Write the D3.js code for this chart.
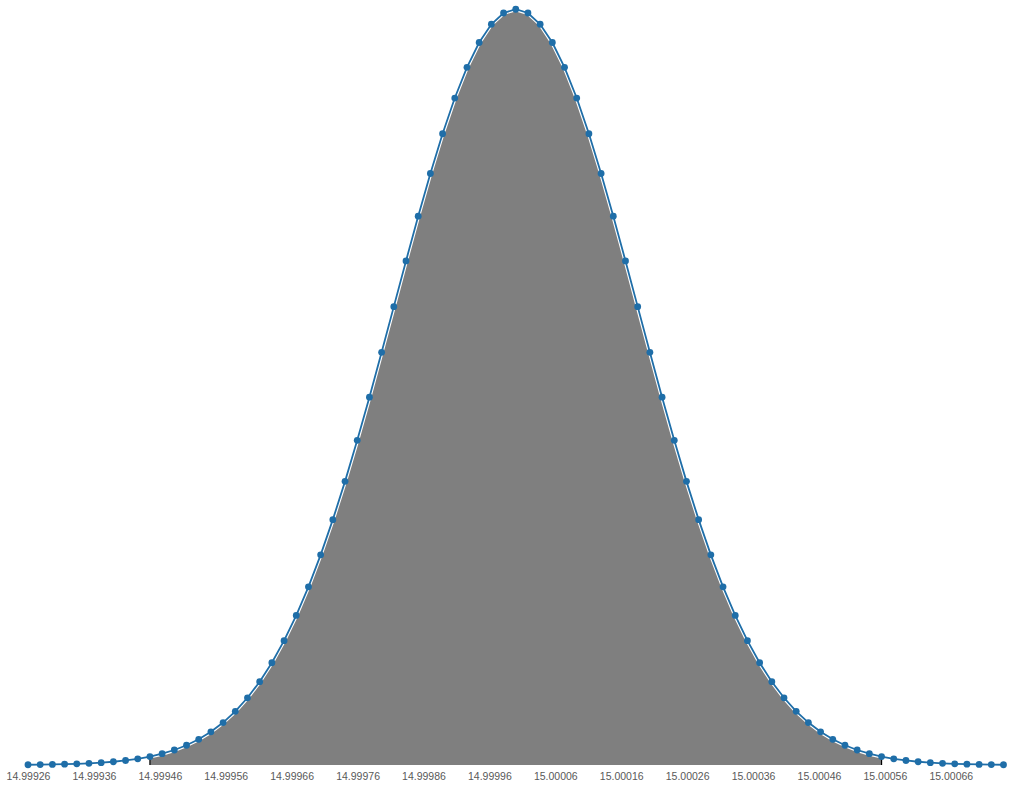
<!DOCTYPE html>
<html>
<head>
<meta charset="utf-8">
<script src="https://cdn.jsdelivr.net/npm/d3@7/dist/d3.min.js"></script>
<style>
  html, body { margin: 0; padding: 0; background: #ffffff; }
  svg { display: block; }
</style>
</head>
<body>
<svg id="chart" width="1030" height="793"></svg>
<script>
// ---- data ----
const xValues = [
  14.99926, 14.9992785, 14.999297, 14.9993155, 14.999334, 14.9993525, 14.999371, 14.9993895,
  14.999408, 14.9994265, 14.999445, 14.9994635, 14.999482, 14.9995005, 14.999519, 14.9995375,
  14.999556, 14.9995745, 14.999593, 14.9996115, 14.99963, 14.9996485, 14.999667, 14.9996855,
  14.999704, 14.9997225, 14.999741, 14.9997595, 14.999778, 14.9997965, 14.999815, 14.9998335,
  14.999852, 14.9998705, 14.999889, 14.9999075, 14.999926, 14.9999445, 14.999963, 14.9999815,
  15.0,
  15.0000185, 15.000037, 15.0000555, 15.000074, 15.0000925, 15.000111, 15.0001295, 15.000148,
  15.0001665, 15.000185, 15.0002035, 15.000222, 15.0002405, 15.000259, 15.0002775, 15.000296,
  15.0003145, 15.000333, 15.0003515, 15.00037, 15.0003885, 15.000407, 15.0004255, 15.000444,
  15.0004625, 15.000481, 15.0004995, 15.000518, 15.0005365, 15.000555, 15.0005735, 15.000592,
  15.0006105, 15.000629, 15.0006475, 15.000666, 15.0006845, 15.000703, 15.0007215, 15.00074
];
const densityValues = [
  0.7, 1.1, 1.6, 2.3, 3.3, 4.7, 6.7, 9.3, 12.9, 17.7,
  24.0, 32.2, 42.8, 56.3, 73.4, 94.7, 121.1, 153.1, 191.8, 237.7,
  291.8, 354.7, 426.8, 508.4, 599.6, 700.1, 809.3, 926.3, 1049.6, 1177.6,
  1307.9, 1438.3, 1565.9, 1687.8, 1801.2, 1903.1, 1990.6, 2061.5, 2113.7, 2145.7,
  2156.4,
  2145.7, 2113.7, 2061.5, 1990.6, 1903.1, 1801.2, 1687.8, 1565.9, 1438.3, 1307.9,
  1177.6, 1049.6, 926.3, 809.3, 700.1, 599.6, 508.4, 426.8, 354.7, 291.8,
  237.7, 191.8, 153.1, 121.1, 94.7, 73.4, 56.3, 42.8, 32.2, 24.0,
  17.7, 12.9, 9.3, 6.7, 4.7, 3.3, 2.3, 1.6, 1.1, 0.7
];
const shadeRange = [14.999445, 15.000555];
const xTickLabels = [
  "14.99926", "14.99936", "14.99946", "14.99956", "14.99966", "14.99976", "14.99986",
  "14.99996", "15.00006", "15.00016", "15.00026", "15.00036", "15.00046", "15.00056", "15.00066"
];
const xDomain = [14.99926, 15.00074];
const yDomain = [0, 2160];

// ---- drawing ----
const svg = d3.select("#chart");
const data = xValues.map((x, i) => ({ x: x, y: densityValues[i] }));
const eps = 1e-9;
const shaded = data.filter(d => d.x >= shadeRange[0] - eps && d.x <= shadeRange[1] + eps);

const x = d3.scaleLinear().domain(xDomain).range([28, 1003.5]);
const y = d3.scaleLinear().domain(yDomain).range([765, 8]);

// shaded area
const area = d3.area().x(d => x(d.x)).y0(y(0)).y1(d => y(d.y));
svg.append("path").datum(shaded)
  .attr("d", area)
  .attr("fill", "#7f7f7f");

// black edge lines of the shaded region
svg.selectAll("line.edge").data([shaded[0], shaded[shaded.length - 1]])
  .enter().append("line")
  .attr("class", "edge")
  .attr("x1", d => x(d.x)).attr("x2", d => x(d.x))
  .attr("y1", y(0)).attr("y2", d => y(d.y))
  .attr("stroke", "#000").attr("stroke-width", 1.2);

// white border along top of the area
const line = d3.line().x(d => x(d.x)).y(d => y(d.y));
svg.append("path").datum(shaded)
  .attr("d", line)
  .attr("fill", "none")
  .attr("stroke", "#ffffff")
  .attr("stroke-width", 4);

// blue series line
svg.append("path").datum(data)
  .attr("d", line)
  .attr("fill", "none")
  .attr("stroke", "#1f6ea8")
  .attr("stroke-width", 1.8);

// markers
svg.selectAll("circle.pt").data(data).enter().append("circle")
  .attr("class", "pt")
  .attr("cx", d => x(d.x))
  .attr("cy", d => y(d.y))
  .attr("r", 3.4)
  .attr("fill", "#1f6ea8");

// x axis labels
const axis = d3.axisBottom(x)
  .tickValues(xTickLabels.map(Number))
  .tickFormat((d, i) => xTickLabels[i])
  .tickSize(0)
  .tickPadding(0);
const g = svg.append("g").attr("transform", "translate(0,773)").call(axis);
g.select(".domain").remove();
g.selectAll("text")
  .attr("dy", "0.71em")
  .attr("fill", "#595959")
  .style("font-family", "'Liberation Sans', Arial, sans-serif")
  .style("font-size", "10.5px");
</script>
</body>
</html>
